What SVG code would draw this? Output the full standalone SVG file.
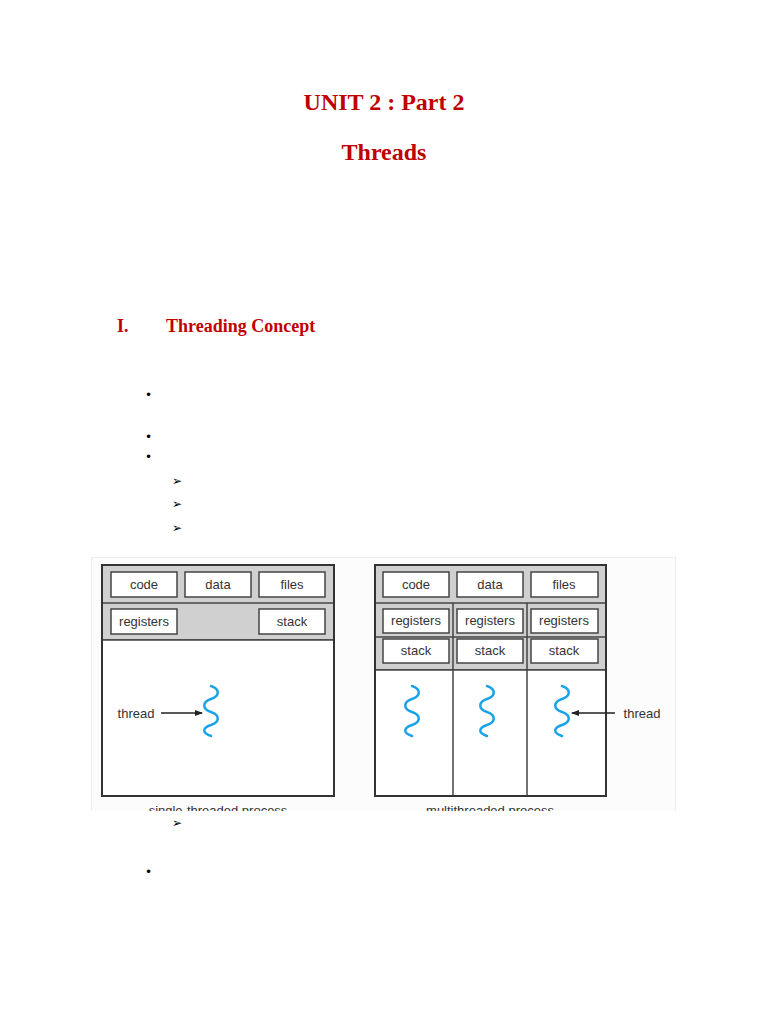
<svg xmlns="http://www.w3.org/2000/svg" width="768" height="1024" viewBox="0 0 768 1024">
<style>
.t{font-family:"Liberation Serif",serif;font-weight:bold;fill:#c00000}
.b{fill:#fff;stroke:#444;stroke-width:1.5}
.g{fill:#d0d0d0;stroke:#444;stroke-width:1.5}
.o{fill:none;stroke:#333;stroke-width:2}
.l{font-family:"Liberation Sans",Arial,sans-serif;font-size:13px;fill:#333;text-anchor:middle}
.s{fill:none;stroke:#1aa3e8;stroke-width:2.5;stroke-linecap:round}
.m{font-family:"DejaVu Sans",sans-serif;font-size:12px;fill:#000}
</style>
<defs>
<marker id="a" markerWidth="8" markerHeight="8" refX="7" refY="4" orient="auto" markerUnits="userSpaceOnUse"><path d="M0,1 L8,4 L0,7z" fill="#222"/></marker>
<path id="sq" d="M0,0 c9,3 9,10 0,13 c-9,3 -9,10 0,13 c9,3 9,10 0,13 c-9,3 -9,8 0,11"/>
<clipPath id="cp"><rect x="91" y="557" width="585" height="254"/></clipPath>
</defs>
<rect width="768" height="1024" fill="#fff"/>
<text class="t" x="384" y="110" font-size="24" text-anchor="middle">UNIT 2 : Part 2</text>
<text class="t" x="384" y="160" font-size="24" text-anchor="middle">Threads</text>
<text class="t" x="117" y="332" font-size="18">I.</text>
<text class="t" x="166" y="332" font-size="18">Threading Concept</text>
<g class="m">
<text x="145" y="399">•</text><text x="145" y="441">•</text><text x="145" y="461">•</text>
<text x="172" y="485">➢</text><text x="172" y="508">➢</text><text x="172" y="532">➢</text>
<text x="172" y="827">➢</text><text x="145" y="876">•</text>
</g>
<g clip-path="url(#cp)">
<rect x="91" y="557" width="585" height="260" fill="#fcfcfc" stroke="#ddd"/>
<g id="single">
<rect class="g" x="102" y="565" width="232" height="75"/>
<rect class="b" x="102" y="640" width="232" height="156"/>
<line x1="102" y1="603" x2="334" y2="603" stroke="#444" stroke-width="1.5"/>
<rect class="o" x="102" y="565" width="232" height="231"/>
<rect class="b" x="111" y="572" width="66" height="25"/><text class="l" x="144" y="589">code</text>
<rect class="b" x="185" y="572" width="66" height="25"/><text class="l" x="218" y="589">data</text>
<rect class="b" x="259" y="572" width="66" height="25"/><text class="l" x="292" y="589">files</text>
<rect class="b" x="111" y="609" width="66" height="25"/><text class="l" x="144" y="626">registers</text>
<rect class="b" x="259" y="609" width="66" height="25"/><text class="l" x="292" y="626">stack</text>
<use href="#sq" x="211" y="686" class="s"/>
<text class="l" x="136" y="718">thread</text>
<text class="l" x="218" y="815">single-threaded process</text>
</g>
<g id="multi">
<rect class="g" x="375" y="565" width="231" height="105"/>
<rect class="b" x="375" y="670" width="231" height="126"/>
<line x1="375" y1="603" x2="606" y2="603" stroke="#444" stroke-width="1.5"/>
<line x1="375" y1="637" x2="606" y2="637" stroke="#444" stroke-width="1.5"/>
<line x1="453" y1="603" x2="453" y2="796" stroke="#444" stroke-width="1.5"/>
<line x1="527" y1="603" x2="527" y2="796" stroke="#444" stroke-width="1.5"/>
<rect class="o" x="375" y="565" width="231" height="231"/>
<rect class="b" x="383" y="572" width="66" height="25"/><text class="l" x="416" y="589">code</text>
<rect class="b" x="457" y="572" width="66" height="25"/><text class="l" x="490" y="589">data</text>
<rect class="b" x="531" y="572" width="67" height="25"/><text class="l" x="564" y="589">files</text>
<rect class="b" x="383" y="609" width="66" height="24"/><text class="l" x="416" y="625">registers</text>
<rect class="b" x="457" y="609" width="66" height="24"/><text class="l" x="490" y="625">registers</text>
<rect class="b" x="531" y="609" width="67" height="24"/><text class="l" x="564" y="625">registers</text>
<rect class="b" x="383" y="639" width="66" height="24"/><text class="l" x="416" y="655">stack</text>
<rect class="b" x="457" y="639" width="66" height="24"/><text class="l" x="490" y="655">stack</text>
<rect class="b" x="531" y="639" width="67" height="24"/><text class="l" x="564" y="655">stack</text>
<use href="#sq" x="412" y="686" class="s"/>
<use href="#sq" x="487" y="686" class="s"/>
<use href="#sq" x="562" y="686" class="s"/>
<text class="l" x="642" y="718">thread</text>
<text class="l" x="490" y="815">multithreaded process</text>
</g>
<g id="connectors" stroke="#222" stroke-width="1.3">
<line x1="161" y1="713" x2="202" y2="713" marker-end="url(#a)"/>
<line x1="615" y1="713" x2="572" y2="713" marker-end="url(#a)"/>
</g>
</g>
</svg>
